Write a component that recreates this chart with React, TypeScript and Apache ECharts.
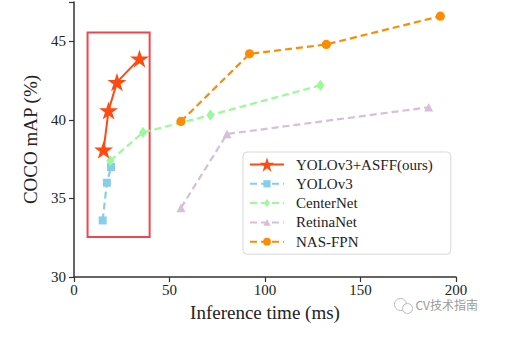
import React, { useEffect, useRef } from "react";
import * as echarts from "echarts";

const seriesNames = ["YOLOv3+ASFF(ours)", "YOLOv3", "CenterNet", "RetinaNet", "NAS-FPN"];
const asffData: [number, number][] = [[15.5, 38.1], [18.1, 40.6], [22.5, 42.4], [34.3, 43.9]];
const yolov3Data: [number, number][] = [[15, 33.6], [17.2, 36.0], [19.4, 37.0]];
const centerNetData: [number, number][] = [[19, 37.4], [36.1, 39.2], [71.4, 40.3], [129, 42.2]];
const retinaNetData: [number, number][] = [[56, 34.4], [80.1, 39.1], [185.7, 40.8]];
const nasFpnData: [number, number][] = [[56, 39.9], [91.9, 44.2], [132.1, 44.8], [191.8, 46.6]];
const highlightBox: [number, number][] = [[7.1, 45.56], [39.6, 32.54]];
const xTicks = [0, 50, 100, 150, 200];
const yTicks = [30, 35, 40, 45];

const STAR =
  "path://M100 0 L122.45 69.1 L195.1 69.1 L136.3 111.8 L158.8 180.9 L100 138.2 L41.2 180.9 L63.7 111.8 L4.9 69.1 L77.55 69.1 Z";
const SQUARE = "path://M0 0 M100 100 M25 25 L75 25 L75 75 L25 75 Z";
const DIAMOND = "path://M0 0 M100 100 M50 22 L70 50 L50 78 L30 50 Z";
const TRIANGLE = "path://M0 0 M100 100 M50 26 L75 74 L25 74 Z";
const CIRCLE = "path://M0 0 M100 100 M77 50 A27 27 0 1 1 23 50 A27 27 0 1 1 77 50 Z";
const FONT = "Liberation Serif";

export default function App() {
  const ref = useRef<HTMLDivElement>(null);
  useEffect(() => {
    const chart = echarts.init(ref.current!, null, { renderer: "svg" });
    const dashed = { type: [7, 4] as any, width: 2.2 };
    chart.setOption({
      animation: false,
      backgroundColor: "#fff",
      textStyle: { fontFamily: FONT },
      grid: { left: 74, right: 54, top: 2, bottom: 63 },
      xAxis: {
        type: "value",
        min: xTicks[0],
        max: xTicks[xTicks.length - 1],
        interval: 50,
        name: "Inference time (ms)",
        nameLocation: "middle",
        nameGap: 26,
        nameTextStyle: { fontFamily: FONT, fontSize: 19, color: "#222" },
        axisLine: { lineStyle: { color: "#333", width: 1.5 } },
        axisTick: { length: 5, lineStyle: { color: "#333", width: 1.2 } },
        axisLabel: { fontFamily: FONT, fontSize: 15, color: "#222", margin: 5 },
        splitLine: { show: false },
      },
      yAxis: {
        type: "value",
        min: yTicks[0],
        max: 47.5,
        interval: 5,
        name: "COCO mAP (%)",
        nameLocation: "middle",
        nameGap: 31,
        nameTextStyle: { fontFamily: FONT, fontSize: 19, color: "#222" },
        axisLine: { show: true, lineStyle: { color: "#333", width: 1.5 } },
        axisTick: { show: true, length: 5, lineStyle: { color: "#333", width: 1.2 } },
        axisLabel: {
          fontFamily: FONT,
          fontSize: 15,
          color: "#222",
          margin: 8,
          formatter: (v: number) => (yTicks.includes(v) ? String(v) : ""),
        },
        splitLine: { show: false },
      },
      legend: {
        left: 243,
        top: 152,
        orient: "vertical",
        backgroundColor: "#fff",
        borderColor: "#d8d8d8",
        borderWidth: 1,
        borderRadius: 4,
        padding: [5, 18, 5, 6],
        itemWidth: 34,
        itemHeight: 18,
        itemGap: 4.3,
        textStyle: { fontFamily: FONT, fontSize: 15, color: "#222", padding: [0, 0, 0, 7] },
        data: seriesNames,
      },
      series: [
        {
          name: seriesNames[0],
          type: "line",
          data: asffData,
          symbol: STAR,
          symbolSize: 19,
          symbolKeepAspect: true,
          z: 5,
          color: "#ff4a12",
          lineStyle: { width: 2, color: "#ff4a12" },
          itemStyle: { color: "#ff4a12", borderWidth: 0 },
          markArea: {
            silent: true,
            itemStyle: { color: "rgba(0,0,0,0)", borderColor: "#f0474e", borderWidth: 2 },
            data: [[{ coord: highlightBox[0] }, { coord: highlightBox[1] }]],
          },
        },
        {
          name: seriesNames[1],
          type: "line",
          data: yolov3Data,
          symbol: SQUARE,
          symbolSize: 16,
          symbolKeepAspect: true,
          color: "#87ceeb",
          lineStyle: { ...dashed, color: "#87ceeb" },
          itemStyle: { color: "#87ceeb", borderWidth: 0 },
        },
        {
          name: seriesNames[2],
          type: "line",
          data: centerNetData,
          symbol: DIAMOND,
          symbolSize: 20,
          symbolKeepAspect: true,
          color: "#98fb98",
          lineStyle: { ...dashed, color: "#98fb98" },
          itemStyle: { color: "#98fb98", borderWidth: 0 },
        },
        {
          name: seriesNames[3],
          type: "line",
          data: retinaNetData,
          symbol: TRIANGLE,
          symbolSize: 18,
          symbolKeepAspect: true,
          color: "#d8bfd8",
          lineStyle: { ...dashed, color: "#d8bfd8" },
          itemStyle: { color: "#d8bfd8", borderWidth: 0 },
        },
        {
          name: seriesNames[4],
          type: "line",
          data: nasFpnData,
          symbol: CIRCLE,
          symbolSize: 17,
          symbolKeepAspect: true,
          color: "#ff8c00",
          lineStyle: { ...dashed, color: "#ff8c00" },
          itemStyle: { color: "#ff8c00", borderWidth: 0 },
        },
      ],
      graphic: [
        {
          type: "group",
          left: 392,
          top: 296,
          children: [
            { type: "circle", shape: { cx: 7, cy: 6, r: 6 }, style: { fill: "none", stroke: "#bbb", lineWidth: 1 } },
            { type: "circle", shape: { cx: 14, cy: 10, r: 5 }, style: { fill: "#fff", stroke: "#bbb", lineWidth: 1 } },
            {
              type: "text",
              x: 22,
              y: 0,
              style: { text: "CV技术指南", fill: "#9a9a9a", fontSize: 12, fontFamily: "Noto Sans CJK SC" },
            },
          ],
        },
      ],
    });
    return () => chart.dispose();
  }, []);
  return (
    <div
      ref={ref}
      style={{ position: "fixed", left: 0, top: 0, width: 510, height: 340 }}
    />
  );
}
